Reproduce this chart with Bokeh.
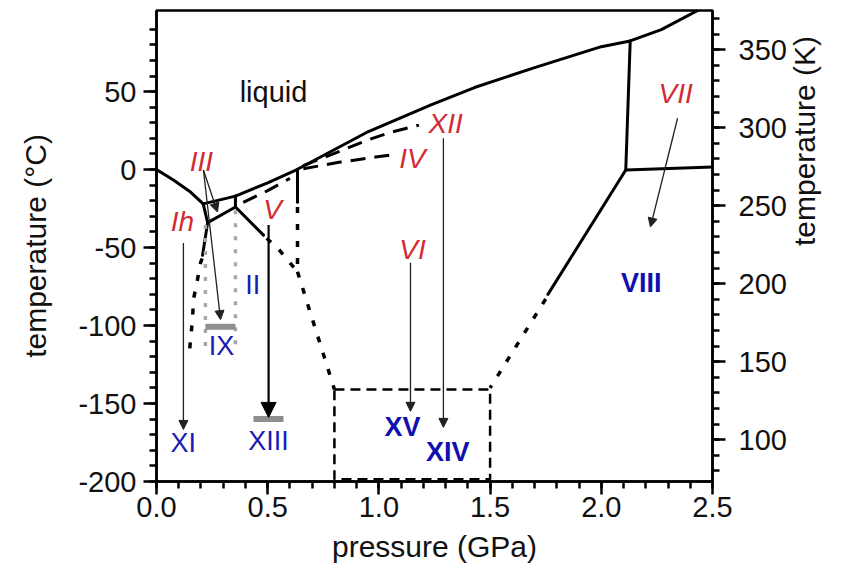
import math
from bokeh.plotting import figure
from bokeh.models import (Range1d, LinearAxis, FixedTicker, Arrow, NormalHead,
                          ColumnDataSource, NumeralTickFormatter)
from bokeh.embed import file_html
from bokeh.resources import INLINE
from bokeh.core.properties import value

# ---------------- data ----------------
P_RANGE = (0.0, 2.5)
T_RANGE = (-200.0, 102.0)
K_OFFSET = 273.15

x_major = [0.0, 0.5, 1.0, 1.5, 2.0, 2.5]
x_minor = [round(0.1 * i, 1) for i in range(0, 26)]
t_major = [-200, -150, -100, -50, 0, 50]
t_minor = list(range(-200, 100, 10))
k_major = [100, 150, 200, 250, 300, 350]
k_minor = list(range(80, 380, 10))

# solid phase boundaries (P in GPa, T in degC)
L_Ih_P = [0.0, 0.076, 0.153, 0.21]
L_Ih_T = [0.0, -6.7, -14.4, -22.0]
L_III_P = [0.21, 0.355]
L_III_T = [-22.0, -17.0]
L_V_P = [0.355, 0.5, 0.634]
L_V_T = [-17.0, -8.5, 0.2]
L_VI_P = [0.634, 0.953, 1.237, 1.43, 1.70, 2.0, 2.13]
L_VI_T = [0.2, 24.4, 41.7, 52.6, 65.4, 78.8, 82.5]
L_VII_P = [2.13, 2.27, 2.44]
L_VII_T = [82.5, 89.7, 102.5]
VI_VII_P = [2.13, 2.11]
VI_VII_T = [82.5, -0.3]
VII_VIII_P = [2.11, 2.5]
VII_VIII_T = [-0.3, 1.6]
VI_VIII_P = [2.11, 1.76]
VI_VIII_T = [-0.3, -80.0]
Ih_III_P = [0.21, 0.23]
Ih_III_T = [-22.0, -34.0]
II_III_P = [0.23, 0.355]
II_III_T = [-34.0, -24.0]
III_V_P = [0.355, 0.355]
III_V_T = [-17.0, -24.0]
II_V_P = [0.355, 0.481]
II_V_T = [-24.0, -42.0]
V_VI_P = [0.634, 0.634]
V_VI_T = [0.2, -21.0]
Ih_II_P = [0.23, 0.207]
Ih_II_T = [-34.0, -55.0]

# dotted (extrapolated) boundaries
Ih_XI_P = [0.205, 0.198, 0.184, 0.166, 0.162, 0.153, 0.148]
Ih_XI_T = [-57.0, -59.8, -70.7, -83.4, -96.2, -109.0, -117.3]
II_V_dot_P = [0.495, 0.544, 0.634]
II_V_dot_T = [-44.0, -50.2, -65.5]
V_VI_dot_P = [0.634, 0.634]
V_VI_dot_T = [-24.0, -65.5]
II_XV_dot_P = [0.634, 0.80]
II_XV_dot_T = [-65.5, -141.0]
VI_VIII_dot_P = [1.75, 1.50]
VI_VIII_dot_T = [-83.0, -140.0]

# grey dotted (ice IX region)
IX_left_P = [0.22, 0.22]
IX_left_T = [-35.5, -115.4]
IX_right_P = [0.355, 0.355]
IX_right_T = [-26.0, -115.4]

# grey bars
IX_bar_P = [0.22, 0.355]
IX_bar_T = [-100.7, -100.7]
XIII_bar_P = [0.436, 0.571]
XIII_bar_T = [-160.0, -160.0]

# dashed metastable lines
IV_ext_P = [0.39, 0.50, 0.60]
IV_ext_T = [-21.0, -13.5, -5.6]
XII_P = [0.66, 0.814, 0.949, 1.039, 1.18]
XII_T = [2.5, 11.2, 18.9, 23.3, 28.5]
IV_P = [0.66, 0.827, 0.985, 1.052]
IV_T = [0.5, 4.8, 8.0, 9.3]
box_P = [0.80, 1.50, 1.50, 0.80, 0.80]
box_T = [-141.0, -141.0, -198.5, -198.5, -141.0]

# phase labels
red_text = ["III", "Ih", "V", "XII", "IV", "VI", "VII"]
red_P = [0.202, 0.117, 0.522, 1.30, 1.151, 1.151, 2.334]
red_T = [5.4, -33.6, -25.3, 29.7, 7.4, -51.5, 48.9]
blue_text = ["II", "IX", "XI", "XIII"]
blue_P = [0.433, 0.292, 0.12, 0.504]
blue_T = [-73.8, -112.8, -175.0, -174.0]
bold_text = ["XV", "XIV", "VIII"]
bold_P = [1.106, 1.31, 2.18]
bold_T = [-165.3, -181.0, -72.6]
liquid_text = ["liquid"]
liquid_P = [0.526]
liquid_T = [49.6]

# arrows: (P start, T start, P end, T end)
thin_arrows = [
    (0.121, -47.0, 0.121, -166.6),
    (0.211, -0.3, 0.274, -27.2),
    (0.211, -0.3, 0.288, -96.2),
    (1.29, 20.1, 1.29, -165.3),
    (1.142, -59.8, 1.142, -155.0),
    (2.343, 32.9, 2.221, -36.8),
]
thick_arrow = (0.504, -35.5, 0.504, -158.9)

# ---------------- figure ----------------
p = figure(width=841, height=588,
           x_range=Range1d(*P_RANGE), y_range=Range1d(*T_RANGE),
           output_backend="svg", toolbar_location=None,
           min_border_left=156, min_border_right=129,
           min_border_top=10, min_border_bottom=107)
p.grid.visible = False
p.background_fill_color = "white"
p.border_fill_color = "white"
p.outline_line_color = "black"
p.outline_line_width = 2.5
p.extra_y_ranges = {"K": Range1d(T_RANGE[0] + K_OFFSET, T_RANGE[1] + K_OFFSET)}
axK = LinearAxis(y_range_name="K")
p.add_layout(axK, "right")

FONT = "Liberation Sans"

def style_axis(ax, label, major, minor, fmt, standoff, label_standoff):
    ax.ticker = FixedTicker(ticks=major, minor_ticks=minor)
    ax.formatter = NumeralTickFormatter(format=fmt)
    ax.axis_label = label
    ax.axis_label_text_font = FONT
    ax.axis_label_text_font_size = "30px"
    ax.axis_label_text_font_style = "normal"
    ax.axis_label_text_color = "#111111"
    ax.major_label_text_font = FONT
    ax.major_label_text_font_size = "29px"
    ax.major_label_text_color = "#111111"
    ax.axis_line_width = 2.5
    ax.axis_line_color = "black"
    ax.major_tick_line_width = 2.5
    ax.minor_tick_line_width = 2.5
    ax.major_tick_out = 13
    ax.major_tick_in = 0
    ax.minor_tick_out = 7
    ax.minor_tick_in = 0
    ax.major_label_standoff = standoff
    ax.axis_label_standoff = label_standoff

style_axis(p.xaxis[0], "pressure (GPa)", x_major, x_minor, "0.0", 2, 10)
style_axis(p.yaxis[0], "temperature (°C)", t_major, t_minor, "0", 7, 23)
style_axis(axK, "temperature (K)", k_major, k_minor, "0", 13, 15)
try:
    axK.axis_label_orientation = math.pi / 2
except Exception:
    pass

LW = 3
solid = [(L_Ih_P, L_Ih_T), (L_III_P, L_III_T), (L_V_P, L_V_T), (L_VI_P, L_VI_T),
         (L_VII_P, L_VII_T), (VI_VII_P, VI_VII_T), (VII_VIII_P, VII_VIII_T),
         (VI_VIII_P, VI_VIII_T), (Ih_III_P, Ih_III_T), (II_III_P, II_III_T),
         (III_V_P, III_V_T), (II_V_P, II_V_T), (V_VI_P, V_VI_T), (Ih_II_P, Ih_II_T)]
for xs, ys in solid:
    p.line(xs, ys, line_color="black", line_width=LW, line_join="round", line_cap="round")

dotted = [(Ih_XI_P, Ih_XI_T), (II_V_dot_P, II_V_dot_T), (V_VI_dot_P, V_VI_dot_T),
          (II_XV_dot_P, II_XV_dot_T), (VI_VIII_dot_P, VI_VIII_dot_T)]
for xs, ys in dotted:
    p.line(xs, ys, line_color="black", line_width=3.5, line_dash="6 11")

for xs, ys in [(IX_left_P, IX_left_T), (IX_right_P, IX_right_T)]:
    p.line(xs, ys, line_color="#a8a8a8", line_width=3.5, line_dash="4 9")

for xs, ys in [(IX_bar_P, IX_bar_T), (XIII_bar_P, XIII_bar_T)]:
    p.line(xs, ys, line_color="#8e8e8e", line_width=6)

for xs, ys in [(IV_ext_P, IV_ext_T), (XII_P, XII_T), (IV_P, IV_T)]:
    p.line(xs, ys, line_color="black", line_width=3, line_dash="15 9")
p.line(box_P, box_T, line_color="black", line_width=2.5, line_dash="10 6")

for (x0, y0, x1, y1) in thin_arrows:
    p.add_layout(Arrow(x_start=x0, y_start=y0, x_end=x1, y_end=y1,
                       line_color="#222222", line_width=1.3,
                       end=NormalHead(size=9, fill_color="#222222", line_color="#222222", line_width=1)))
x0, y0, x1, y1 = thick_arrow
p.add_layout(Arrow(x_start=x0, y_start=y0, x_end=x1, y_end=y1,
                   line_color="black", line_width=2.2,
                   end=NormalHead(size=15, fill_color="black", line_color="black", line_width=1)))

def labels(xs, ys, txt, color, style, size):
    src = ColumnDataSource(dict(x=xs, y=ys, t=txt))
    p.text(x="x", y="y", text="t", source=src, text_color=color,
           text_font=value(FONT), text_font_style=style, text_font_size=size,
           text_align="center", text_baseline="middle")

labels(red_P, red_T, red_text, "#d22b33", "italic", "28px")
labels(blue_P, blue_T, blue_text, "#1c1cb4", "normal", "27px")
labels(bold_P, bold_T, bold_text, "#1010b0", "bold", "27px")
labels(liquid_P, liquid_T, liquid_text, "#111111", "normal", "29px")

open("out.html", "w").write(file_html(p, INLINE))
